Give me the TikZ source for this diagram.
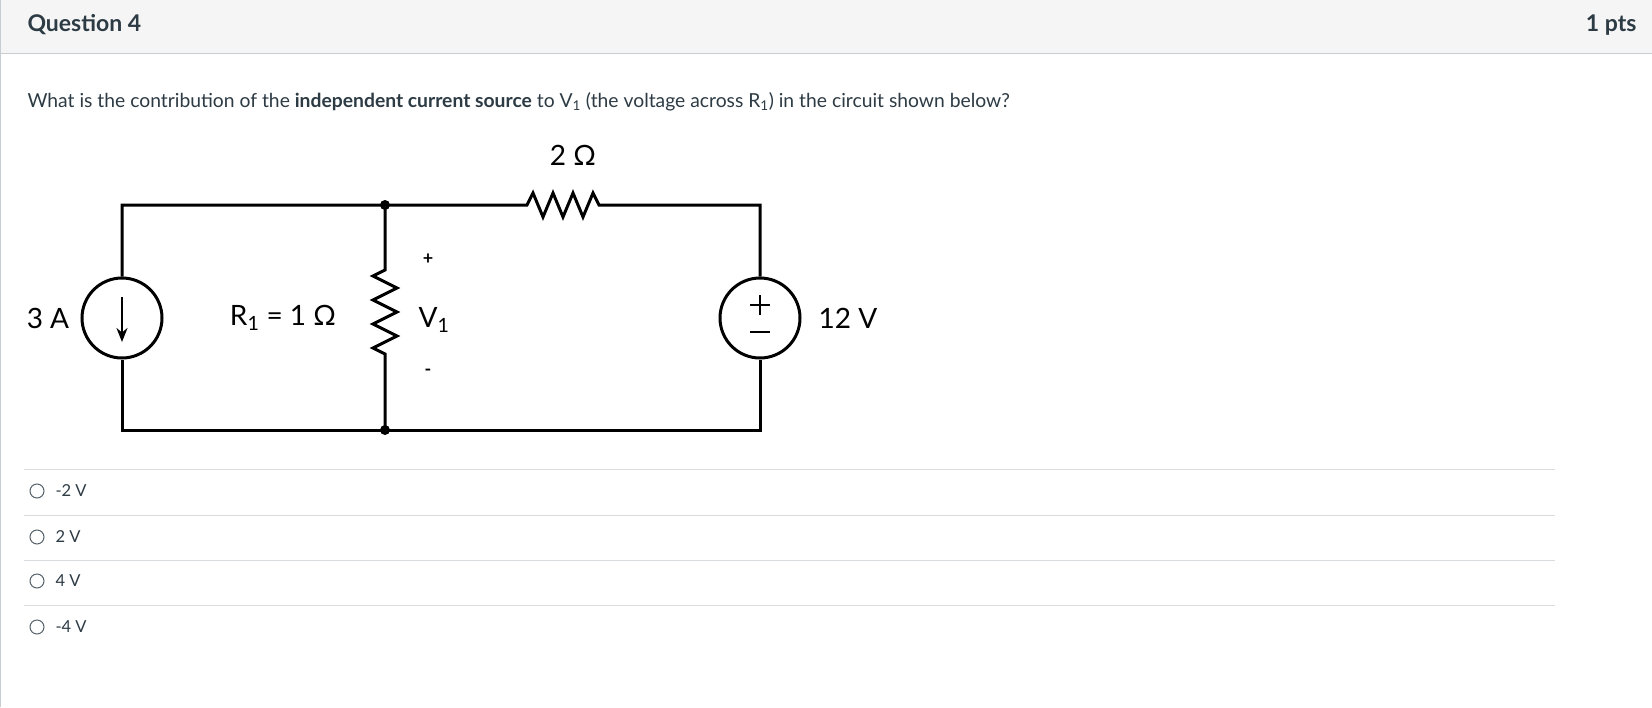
\documentclass[tikz,border=0pt]{standalone}
\usepackage{fontspec}
\setmainfont{Lato}
\usetikzlibrary{arrows.meta}
\definecolor{hdr}{HTML}{F5F5F5}
\definecolor{rule}{HTML}{C7CDD1}
\definecolor{txt}{HTML}{2D3B45}
\begin{document}
\begin{tikzpicture}[x=1pt,y=-1pt,
  wire/.style={line width=3pt,black,line join=miter},
  opt/.style={anchor=west,font=\fontsize{16.5}{19}\selectfont,text=txt},
  lab/.style={font=\fontsize{28}{32}\selectfont},
  radio/.style={circle,draw=txt!80,line width=1pt,minimum size=14pt,inner sep=0pt}]
\useasboundingbox (0,0) rectangle (1652,707);
\fill[white] (0,0) rectangle (1652,707);
\fill[hdr] (0,0) rectangle (1652,53);
\draw[rule,line width=1pt] (0,53) -- (1652,53);
\draw[rule,line width=1pt] (0.5,0) -- (0.5,707);
\node[anchor=west,font=\bfseries\fontsize{23}{27}\selectfont,text=txt] (q) at (24,25) {Question 4};
\node[anchor=east,font=\bfseries\fontsize{23}{27}\selectfont,text=txt] (p) at (1640,25) {1 pts};
\node[anchor=west,font=\fontsize{19.3}{23}\selectfont,text=txt] (qt) at (24,102) {What is the contribution of the \textbf{independent current source} to V\textsubscript{1} (the voltage across R\textsubscript{1}) in the circuit shown below?};
% circuit
\coordinate (tl) at (122,205); \coordinate (tm) at (385,205); \coordinate (tr) at (760,205);
\coordinate (bl) at (122,430); \coordinate (bm) at (385,430); \coordinate (br) at (760,430);
\node[circle,draw,line width=3pt,inner sep=0pt,minimum size=80pt] (cs) at (122,318) {};
\node[circle,draw,line width=3pt,inner sep=0pt,minimum size=80pt] (vs) at (760,318) {};
\draw[wire] (cs.north) -- (tl) -- (tm) -- (527,205)
  -- (533,193) -- (543,217) -- (553,193) -- (563,217) -- (573,193) -- (583,217) -- (593,193) -- (599,205)
  -- (623,205) -- (tr) -- (vs.north);
\draw[wire] (vs.south) -- (br) -- (bm) -- (bl) -- (cs.south);
\draw[wire] (tm) -- (385,270) -- (373,276) -- (397,288) -- (373,300) -- (397,312) -- (373,324) -- (397,336) -- (373,348) -- (385,354) -- (bm);
\fill (tm) circle (5); \fill (bm) circle (5);
\draw[line width=2.5pt,-{Stealth[length=14pt,width=11pt]}] (122,297) -- (122,342);
\draw[line width=2.2pt] (750,305) -- (770,305) (760,295) -- (760,315);
\draw[line width=2.2pt] (750,332) -- (770,332);
\node[lab] (l3) at (48,318) {3 A};
\node[lab] (lr) at (283,318) {R\textsubscript{1} = 1 Ω};
\node[lab] (lv) at (434,320) {V\textsubscript{1}};
\node[font=\bfseries\fontsize{18}{20}\selectfont] (lp) at (428,259) {+};
\node[font=\bfseries\fontsize{18}{20}\selectfont] (lm) at (428,372) {-};
\node[lab] (l2) at (573,155) {2 Ω};
\node[lab] (l12) at (848,318) {12 V};
% options
\foreach \y in {469,515,560,605} \draw[rule!70,line width=1pt] (24,\y) -- (1555,\y);
\node[radio] (r1) at (37,491) {}; \node[opt] at (52,491) {-2 V};
\node[radio] (r2) at (37,537) {}; \node[opt] at (52,537) {2 V};
\node[radio] (r3) at (37,581) {}; \node[opt] at (52,581) {4 V};
\node[radio] (r4) at (37,627) {}; \node[opt] at (52,627) {-4 V};
\end{tikzpicture}
\end{document}
